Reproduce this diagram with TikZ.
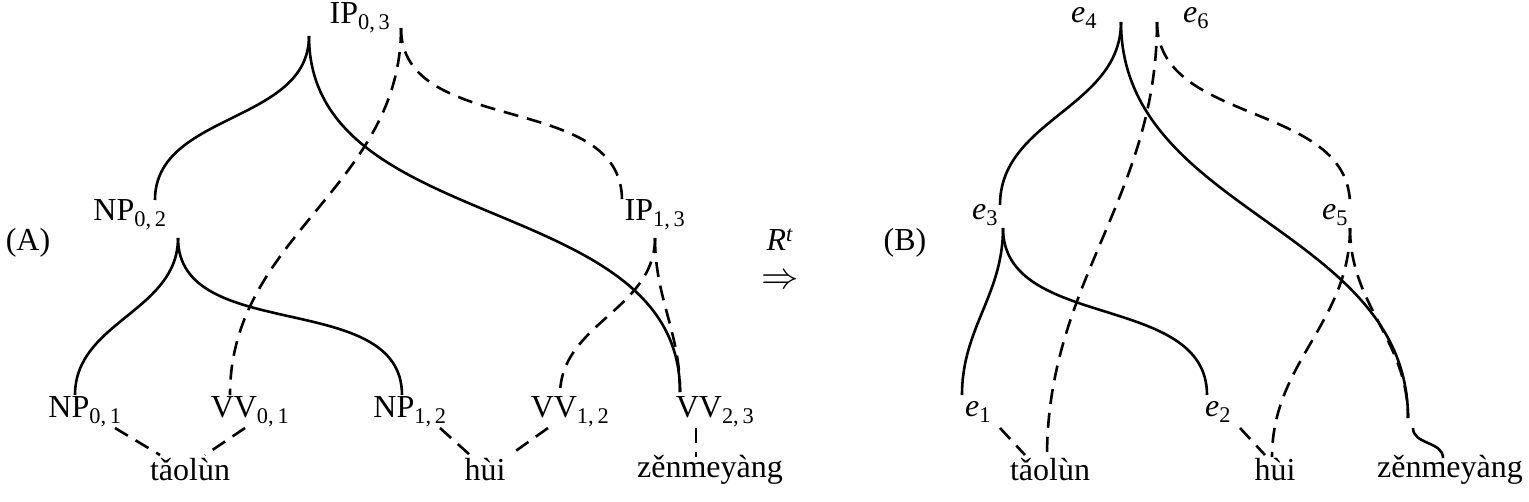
\documentclass[tikz,border=0pt]{standalone}
\usepackage{fontspec}
\usepackage{amsmath}
\setmainfont{Liberation Serif}
\newcommand{\sbx}[1]{$_{\text{#1}}$}
\begin{document}
\begin{tikzpicture}[x=1pt,y=-1pt,line width=2.6pt,
  lab/.style={inner sep=0pt,font=\fontsize{32}{36}\selectfont},
  sc/.style={out=-90,in=90},
  dsh/.style={dash pattern=on 15pt off 9pt}]
\useasboundingbox (0,0) rectangle (1529,501);
% (A)
\node[lab] (ip03) at (360,18) {IP\sbx{0,\,3}};
\node[lab] (np02) at (130,215) {NP\sbx{0,\,2}};
\node[lab] (ip13) at (655,215) {IP\sbx{1,\,3}};
\node[lab] (np01) at (85,412) {NP\sbx{0,\,1}};
\node[lab] (vv01) at (250,412) {VV\sbx{0,\,1}};
\node[lab] (np12) at (410,412) {NP\sbx{1,\,2}};
\node[lab] (vv12) at (570,412) {VV\sbx{1,\,2}};
\node[lab] (vv23) at (715,412) {VV\sbx{2,\,3}};
\node[lab] (w1) at (190,470) {tǎolùn};
\node[lab] (w2) at (485,470) {hùi};
\node[lab] (w3) at (710,470) {zěnmeyàng};
\node[lab] (A) at (28,243) {(A)};
\node[lab] (R) at (780,240) {\textit{R}\textsuperscript{\textit{t}}};
\node[lab,scale=1.5] (arr) at (780,282) {$\Rightarrow$};
\node[lab] (B) at (905,243) {(B)};
\coordinate (ipL) at (309,36);
\coordinate (ipR) at (401,28);
\draw (ipL) to[sc] (155,200);
\draw (ipL) to[sc] (680,392);
\draw[dsh] (ipR) to[sc] (230,395);
\draw[dsh] (ipR) to[sc] (622,200);
\draw (178,238) to[sc] (75,395);
\draw (178,238) to[sc] (402,395);
\draw[dsh] (655,238) to[sc] (560,395);
\draw[dsh] (655,238) to[sc] (680,392);
\draw[dsh] (115,428) -- (160,455);
\draw[dsh] (245,428) -- (205,455);
\draw[dsh] (440,428) -- (470,455);
\draw[dsh] (548,428) -- (510,455);
\draw[dsh] (696,428) -- (696,457);
% (B)
\node[lab] (e4) at (1084,18) {\textit{e}\sbx{4}};
\node[lab] (e6) at (1196,18) {\textit{e}\sbx{6}};
\node[lab] (e3) at (985,215) {\textit{e}\sbx{3}};
\node[lab] (e5) at (1335,215) {\textit{e}\sbx{5}};
\node[lab] (e1) at (978,412) {\textit{e}\sbx{1}};
\node[lab] (e2) at (1218,412) {\textit{e}\sbx{2}};
\node[lab] (x1) at (1050,470) {tǎolùn};
\node[lab] (x2) at (1275,470) {hùi};
\node[lab] (x3) at (1450,470) {zěnmeyàng};
\coordinate (t4) at (1121,22);
\coordinate (t6) at (1157,22);
\coordinate (v) at (1408,418);
\draw (t4) to[sc] (1000,205);
\draw (t4) to[sc] (v);
\draw[dsh] (t6) to[sc] (1047,457);
\draw[dsh] (t6) to[sc] (1350,205);
\draw (1003,228) to[sc] (962,395);
\draw (1003,228) to[sc] (1207,395);
\draw[dsh] (1350,228) to[sc] (1272,457);
\draw[dsh] (1350,228) to[sc] (v);
\draw (1413,428) to[sc] (1443,458);
\draw[dsh] (1000,428) -- (1025,455);
\draw[dsh] (1240,428) -- (1265,455);
\end{tikzpicture}
\end{document}
